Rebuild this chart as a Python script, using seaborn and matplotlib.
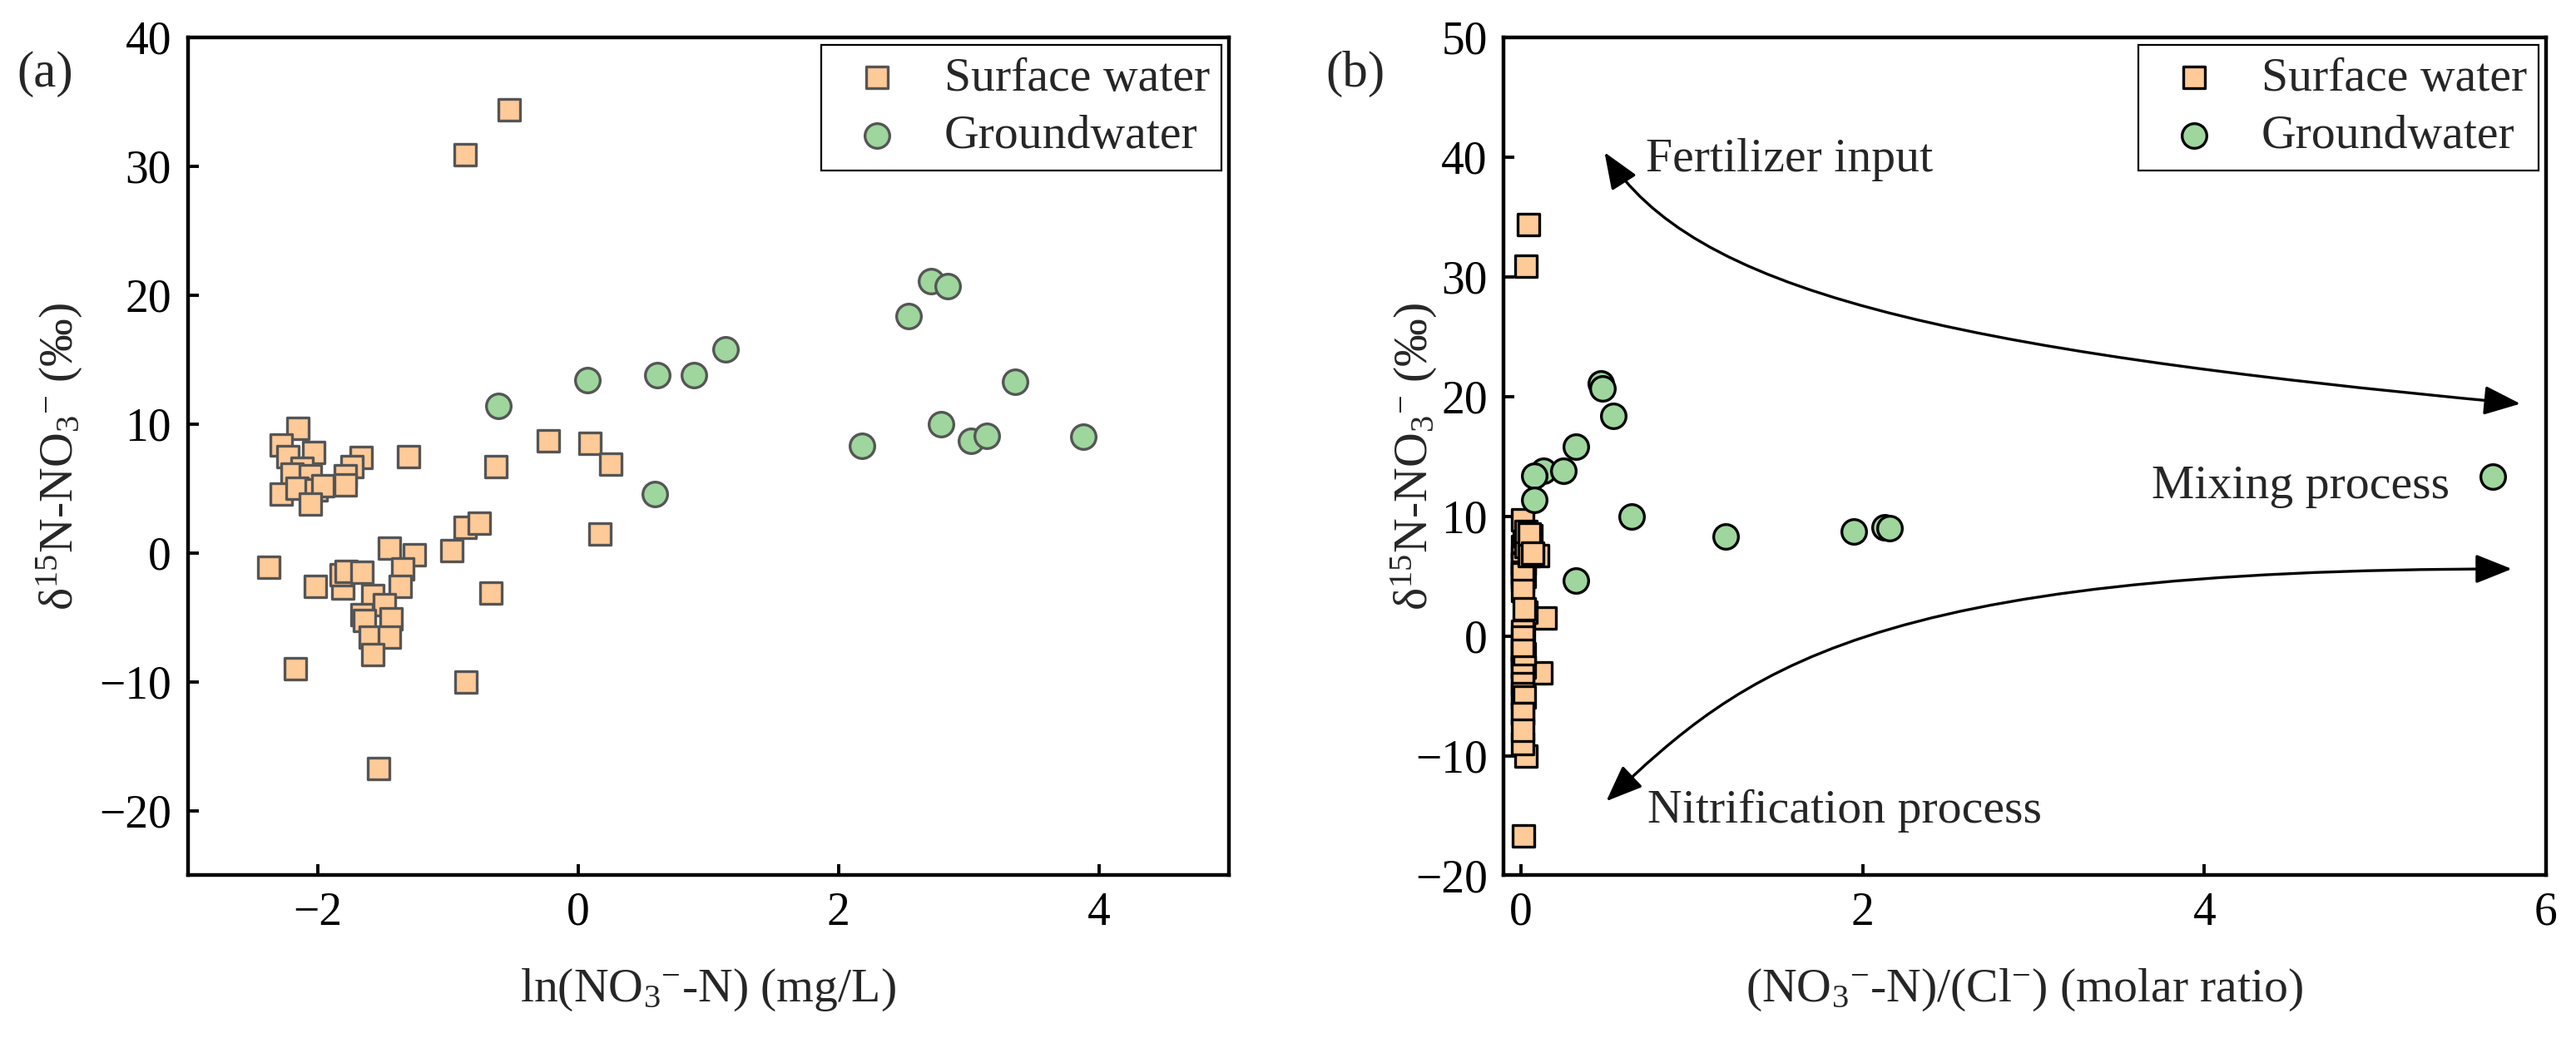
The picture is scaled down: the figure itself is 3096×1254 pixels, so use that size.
import numpy as np
import pandas as pd
import matplotlib
matplotlib.use('Agg')
import matplotlib.pyplot as plt
import seaborn as sns
from matplotlib.path import Path
from matplotlib.patches import FancyArrowPatch

# ---------------- data ----------------
# Surface water samples
sw_d15n = [9.7, 8.4, 7.5, 7.8, 6.6, 6.1, 6.0, 7.4, 6.7, 6.0, 5.3, 4.6, 5.0, 4.9, 5.2,
           3.8, 7.5, 6.7, 8.7, 8.5, 6.9, 1.5, 2.0, 2.3, 0.2, -3.1, -10.0, -1.1, -9.0,
           -16.7, -2.6, -2.7, -1.7, -1.4, -1.5, 0.4, -0.1, -1.2, -2.6, -3.3, -4.0,
           -4.8, -5.2, -5.1, -6.5, -6.5, -7.9, 30.9, 34.4]
sw_ln_no3 = [-2.15, -2.28, -2.23, -2.03, -2.12, -2.20, -2.06, -1.67, -1.74, -1.79, -1.79,
             -2.28, -2.16, -2.01, -1.96, -2.06, -1.30, -0.63, -0.23, 0.09, 0.25, 0.17,
             -0.87, -0.76, -0.97, -0.67, -0.86, -2.38, -2.17, -1.53, -2.02, -1.81, -1.82,
             -1.78, -1.66, -1.45, -1.26, -1.35, -1.37, -1.58, -1.49, -1.66, -1.64, -1.44,
             -1.60, -1.45, -1.58, -0.87, -0.53]
sw_ratio = [0.01, 0.06, 0.01, 0.02, 0.01, 0.01, 0.02, 0.04, 0.10, 0.01, 0.01, 0.01, 0.02,
            0.01, 0.01, 0.01, 0.03, 0.05, 0.03, 0.05, 0.07, 0.14, 0.03, 0.02, 0.015, 0.12,
            0.03, 0.01, 0.01, 0.015, 0.01, 0.01, 0.01, 0.01, 0.02, 0.01, 0.01, 0.01, 0.02,
            0.01, 0.01, 0.01, 0.01, 0.02, 0.01, 0.01, 0.01, 0.03, 0.045]

# Groundwater samples
gw_d15n = [21.1, 20.7, 18.4, 15.8, 13.8, 13.8, 13.4, 11.4, 10.0, 4.6, 8.3, 8.7, 9.1, 9.0, 13.3]
gw_ln_no3 = [2.71, 2.84, 2.54, 1.13, 0.61, 0.89, 0.07, -0.61, 2.79, 0.59, 2.18, 3.02, 3.14, 3.88, 3.36]
gw_ratio = [0.47, 0.48, 0.54, 0.32, 0.13, 0.25, 0.08, 0.08, 0.65, 0.32, 1.20, 1.95, 2.13, 2.16, 5.69]

series_labels = ['Surface water', 'Groundwater']
panel_labels = ['(a)', '(b)']
xlabel_a = r'ln(NO$_3$$^{-}$-N) (mg/L)'
xlabel_b = r'(NO$_3$$^{-}$-N)/(Cl$^{-}$) (molar ratio)'
ylabel = r'δ$^{15}$N-NO$_3$$^{-}$ (‰)'
process_labels = ['Fertilizer input', 'Mixing process', 'Nitrification process']

# ---------------- style ----------------
sns.set_theme(style='ticks')
plt.rcParams['font.family'] = ['Liberation Serif', 'DejaVu Serif']
plt.rcParams['mathtext.fontset'] = 'custom'
plt.rcParams['mathtext.rm'] = 'Liberation Serif'
plt.rcParams['mathtext.it'] = 'Liberation Serif:italic'
plt.rcParams['mathtext.bf'] = 'Liberation Serif:bold'
plt.rcParams['axes.unicode_minus'] = True

SW_COLOR = '#FDCA98'
GW_COLOR = '#9ED69E'
FS_TICK = 20
FS_TEXT = 20.8

fig = plt.figure(figsize=(15.48, 6.27), dpi=200)
fig.patch.set_facecolor('white')
axa = fig.add_axes([0.07284, 0.16069, 0.40423, 0.80343])
axb = fig.add_axes([0.58375, 0.16069, 0.40462, 0.80343])


def style_axes(ax):
    ax.set_facecolor('white')
    for sp in ax.spines.values():
        sp.set_visible(True)
        sp.set_linewidth(1.6)
        sp.set_color('black')
    ax.tick_params(direction='in', length=4.7, width=1.4, labelsize=FS_TICK, pad=7,
                   colors='black', top=False, right=False)
    ax.grid(False)


def add_legend(ax):
    leg = ax.legend(loc='upper right', bbox_to_anchor=(1, 1), borderaxespad=0.15,
                    frameon=True, fancybox=False, edgecolor='black', framealpha=1,
                    fontsize=FS_TEXT, borderpad=0.25, handlelength=1.8, handletextpad=0.5,
                    labelspacing=0.3, scatterpoints=1)
    leg.get_frame().set_linewidth(0.8)
    return leg


# ---------------- panel (a) ----------------
sns.scatterplot(x=sw_ln_no3, y=sw_d15n, marker='s', s=88, color=SW_COLOR,
                edgecolor='#555555', linewidth=1.2, label=series_labels[0], ax=axa, zorder=3)
sns.scatterplot(x=gw_ln_no3, y=gw_d15n, marker='o', s=114, color=GW_COLOR,
                edgecolor='#555555', linewidth=1.2, label=series_labels[1], ax=axa, zorder=4)
axa.set_xlim(-3, 5)
axa.set_ylim(-25, 40)
axa.set_xticks([-2, 0, 2, 4])
axa.set_yticks([-20, -10, 0, 10, 20, 30, 40])
style_axes(axa)
axa.set_xlabel(xlabel_a, fontsize=FS_TEXT, labelpad=14)
axa.set_ylabel(ylabel, fontsize=FS_TEXT)
axa.yaxis.set_label_coords(-0.099, 0.5)
add_legend(axa)

# ---------------- panel (b) ----------------
sns.scatterplot(x=sw_ratio, y=sw_d15n, marker='s', s=88, color=SW_COLOR,
                edgecolor='black', linewidth=1.2, label=series_labels[0], ax=axb, zorder=3)
sns.scatterplot(x=gw_ratio, y=gw_d15n, marker='o', s=114, color=GW_COLOR,
                edgecolor='black', linewidth=1.2, label=series_labels[1], ax=axb, zorder=4)
axb.set_xlim(-0.1, 6)
axb.set_ylim(-20, 50)
axb.set_xticks([0, 2, 4, 6])
axb.set_yticks([-20, -10, 0, 10, 20, 30, 40, 50])
style_axes(axb)
axb.set_xlabel(xlabel_b, fontsize=FS_TEXT, labelpad=14)
axb.set_ylabel(ylabel, fontsize=FS_TEXT)
axb.yaxis.set_label_coords(-0.062, 0.5)
add_legend(axb)

# curved process arrows (cubic Bezier in data coordinates)
upper = Path([(0.49, 40.4), (1.0, 29.0), (2.4, 24.0), (5.85, 19.4)],
             [Path.MOVETO, Path.CURVE4, Path.CURVE4, Path.CURVE4])
lower = Path([(0.50, -13.8), (1.3, -3.0), (2.0, 5.6), (5.80, 5.6)],
             [Path.MOVETO, Path.CURVE4, Path.CURVE4, Path.CURVE4])
for p in (upper, lower):
    arr = FancyArrowPatch(path=p, arrowstyle='<|-|>,head_length=0.5,head_width=0.2',
                          mutation_scale=27, lw=1.2, color='black',
                          transform=axb.transData, zorder=2)
    axb.add_patch(arr)

axb.text(0.73, 39.8, process_labels[0], fontsize=FS_TEXT, ha='left', va='center')
axb.text(3.69, 12.5, process_labels[1], fontsize=FS_TEXT, ha='left', va='center')
axb.text(0.74, -14.6, process_labels[2], fontsize=FS_TEXT, ha='left', va='center')

# panel labels
fig.text(20 / 3096, 1 - 89 / 1254, panel_labels[0], fontsize=22, ha='left', va='center')
fig.text(1593 / 3096, 1 - 89 / 1254, panel_labels[1], fontsize=22, ha='left', va='center')

fig.savefig('out.png', dpi=200, facecolor='white')
